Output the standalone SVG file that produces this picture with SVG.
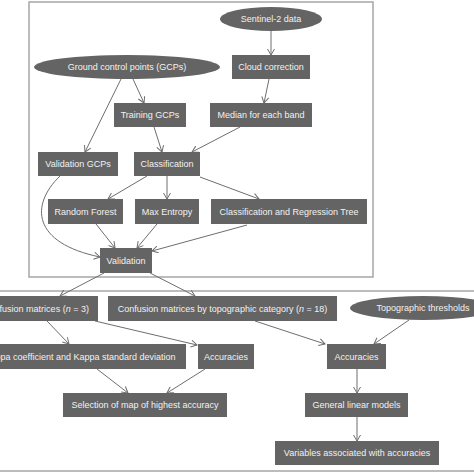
<svg xmlns="http://www.w3.org/2000/svg" width="474" height="474" viewBox="0 0 474 474">
<style>
.n{fill:#646464}
.t{font-family:"Liberation Sans",Arial,sans-serif;font-size:9px;fill:#f2f2f2;text-anchor:middle}
.c{fill:none;stroke:#6e6e6e;stroke-width:1}
.f{fill:none;stroke:#a6a6a6;stroke-width:1.5}
</style>
<defs>
<marker id="a" markerWidth="8" markerHeight="8" refX="7" refY="4" orient="auto" markerUnits="userSpaceOnUse">
<path d="M1,0.5 L7,4 L1,7.5" fill="none" stroke="#6e6e6e" stroke-width="1"/>
</marker>
</defs>
<rect width="474" height="474" fill="#ffffff"/>
<g id="frames">
<rect class="f" x="29" y="2" width="344" height="275"/>
<rect class="f" x="-5" y="291" width="484" height="180"/>
</g>
<g id="connectors">
<path class="c" marker-end="url(#a)" d="M271,31 L271,55"/>
<path class="c" marker-end="url(#a)" d="M269,79 L264,103"/>
<path class="c" marker-end="url(#a)" d="M133,79 L144,103"/>
<path class="c" marker-end="url(#a)" d="M121,79 L85,152"/>
<path class="c" marker-end="url(#a)" d="M154,127 L162,152"/>
<path class="c" marker-end="url(#a)" d="M240,127 L192,152"/>
<path class="c" marker-end="url(#a)" d="M147,176 L108,199"/>
<path class="c" marker-end="url(#a)" d="M167,176 L167,199"/>
<path class="c" marker-end="url(#a)" d="M200,177 L259,199"/>
<path class="c" marker-end="url(#a)" d="M60,176 C30,205 32,243 100,257"/>
<path class="c" marker-end="url(#a)" d="M96,224 L115,248"/>
<path class="c" marker-end="url(#a)" d="M157,224 L137,248"/>
<path class="c" marker-end="url(#a)" d="M247,225 L152,251"/>
<path class="c" marker-end="url(#a)" d="M104,273 L60,296"/>
<path class="c" marker-end="url(#a)" d="M150,273 L195,296"/>
<path class="c" marker-end="url(#a)" d="M47,321 L69,344"/>
<path class="c" marker-end="url(#a)" d="M95,321 L197,345"/>
<path class="c" marker-end="url(#a)" d="M97,369 L128,393"/>
<path class="c" marker-end="url(#a)" d="M205,369 L167,393"/>
<path class="c" marker-end="url(#a)" d="M255,321 L325,344"/>
<path class="c" marker-end="url(#a)" d="M409,320 L374,344"/>
<path class="c" marker-end="url(#a)" d="M357,369 L357,393"/>
<path class="c" marker-end="url(#a)" d="M357,417 L357,441"/>
</g>
<g id="sentinel"><ellipse class="n" cx="271" cy="19" rx="51" ry="12"/><text class="t" x="271" y="22">Sentinel-2 data</text></g>
<g id="cloud"><rect class="n" x="232" y="55" width="78" height="24"/><text class="t" x="271" y="70">Cloud correction</text></g>
<g id="median"><rect class="n" x="210" y="103" width="102" height="24"/><text class="t" x="261" y="118">Median for each band</text></g>
<g id="gcp"><ellipse class="n" cx="127" cy="67" rx="93" ry="12"/><text class="t" x="127" y="70">Ground control points (GCPs)</text></g>
<g id="training"><rect class="n" x="114" y="103" width="72" height="24"/><text class="t" x="150" y="118">Training GCPs</text></g>
<g id="valgcp"><rect class="n" x="38" y="152" width="80" height="24"/><text class="t" x="78" y="167">Validation GCPs</text></g>
<g id="classification"><rect class="n" x="134" y="152" width="66" height="24"/><text class="t" x="167" y="167">Classification</text></g>
<g id="rf"><rect class="n" x="48" y="199" width="75" height="25"/><text class="t" x="85.5" y="214.5">Random Forest</text></g>
<g id="me"><rect class="n" x="135" y="199" width="64" height="25"/><text class="t" x="167" y="214.5">Max Entropy</text></g>
<g id="cart"><rect class="n" x="211" y="199" width="156" height="25"/><text class="t" x="289" y="214.5">Classification and Regression Tree</text></g>
<g id="validation"><rect class="n" x="100" y="248" width="52" height="25"/><text class="t" x="126" y="263.5">Validation</text></g>
<g id="conf3"><rect class="n" x="-26" y="296" width="124" height="25"/><text class="t" x="36" y="311.5">Confusion matrices (<tspan font-style="italic">n</tspan> = 3)</text></g>
<g id="conftopo"><rect class="n" x="108" y="296" width="229" height="25"/><text class="t" x="222.5" y="311.5">Confusion matrices by topographic category (<tspan font-style="italic">n</tspan> = 18)</text></g>
<g id="topo"><ellipse class="n" cx="423" cy="308" rx="73" ry="12"/><text class="t" x="423" y="311">Topographic thresholds</text></g>
<g id="kappa"><rect class="n" x="-26" y="344" width="212" height="25"/><text class="t" x="80" y="359.5">Kappa coefficient and Kappa standard deviation</text></g>
<g id="accleft"><rect class="n" x="198" y="344" width="56" height="25"/><text class="t" x="226" y="359.5">Accuracies</text></g>
<g id="accright"><rect class="n" x="327" y="344" width="59" height="25"/><text class="t" x="356.5" y="359.5">Accuracies</text></g>
<g id="selection"><rect class="n" x="63" y="393" width="164" height="24"/><text class="t" x="145" y="408">Selection of map of highest accuracy</text></g>
<g id="glm"><rect class="n" x="305" y="393" width="103" height="24"/><text class="t" x="356.5" y="408">General linear models</text></g>
<g id="variables"><rect class="n" x="275" y="441" width="164" height="24"/><text class="t" x="357" y="456">Variables associated with accuracies</text></g>
</svg>
